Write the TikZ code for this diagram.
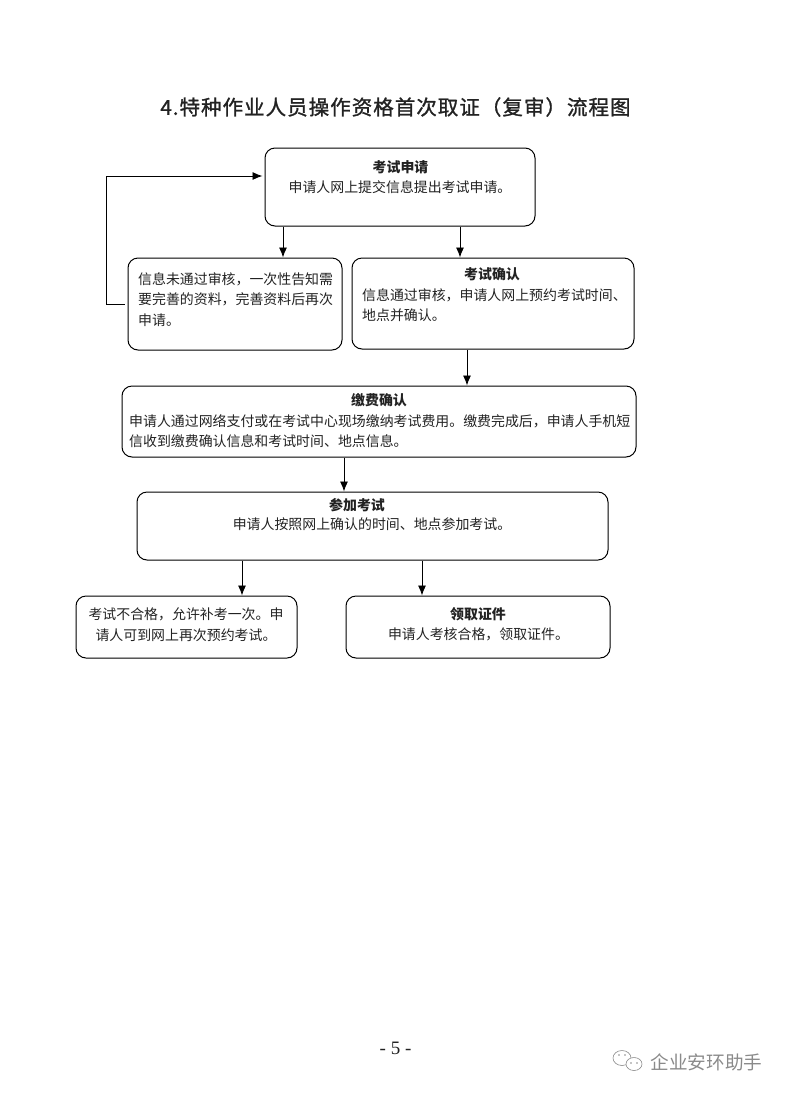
\documentclass[tikz,border=0pt]{standalone}
\usepackage{fontspec}
\setmainfont{Noto Sans CJK SC}
\newfontfamily\titlefont[LetterSpace=5,FakeBold=1.2]{Noto Sans CJK SC}
\newfontfamily\pagefont{Liberation Serif}
\usetikzlibrary{arrows.meta}
\pgfdeclarelayer{edgelayer}
\pgfdeclarelayer{nodelayer}
\pgfsetlayers{edgelayer,nodelayer,main}
\definecolor{ink}{HTML}{222222}
\definecolor{mark}{HTML}{8A8A8A}
\tikzstyle{box}=[rectangle,rounded corners=10pt,fill=white,draw=black,line width=1pt,inner sep=0pt]
\tikzstyle{transition}=[-{Latex[length=10pt,width=8pt]},draw=black,line width=0.9pt]
\tikzstyle{words}=[inner sep=0pt,text=ink,font=\fontsize{13.92}{20.5}\selectfont]
\tikzstyle{leftwords}=[style=words,anchor=west,align=left]
\tikzstyle{midwords}=[style=words,align=center]
\tikzstyle{bubble}=[draw=mark,line width=0.6pt,fill=white]
\tikzstyle{eye}=[fill=mark]

\begin{document}
\begin{tikzpicture}[x=1pt,y=-1pt]
	\useasboundingbox (0, 0) rectangle (789, 1096);
	\begin{pgfonlayer}{nodelayer}
		\node [style=box, minimum width=270pt, minimum height=78pt] (0) at (400, 187) {};
		\node [style=box, minimum width=214pt, minimum height=92pt] (1) at (235, 304) {};
		\node [style=box, minimum width=282pt, minimum height=91pt] (2) at (493, 303.5) {};
		\node [style=box, minimum width=514pt, minimum height=71pt] (3) at (379, 421.5) {};
		\node [style=box, minimum width=471pt, minimum height=68pt] (4) at (372.5, 526) {};
		\node [style=box, minimum width=221pt, minimum height=62pt] (5) at (186.5, 627) {};
		\node [style=box, minimum width=264pt, minimum height=62pt] (6) at (478, 627) {};
		\coordinate (7) at (106, 304);
	\end{pgfonlayer}
	\begin{pgfonlayer}{edgelayer}
		\draw [style=transition] ([xshift=-117pt]0.south) to ([xshift=48pt]1.north);
		\draw [style=transition] ([xshift=60pt]0.south) to ([xshift=-33pt]2.north);
		\draw [style=transition] ([xshift=-26pt]2.south) to ([xshift=88pt]3.north);
		\draw [style=transition] ([xshift=-35pt]3.south) to ([xshift=-28.5pt]4.north);
		\draw [style=transition] ([xshift=-130.5pt]4.south) to ([xshift=55.5pt]5.north);
		\draw [style=transition] ([xshift=49.5pt]4.south) to ([xshift=-56pt]6.north);
		\draw [style=transition] ([xshift=-3pt]1.west) -- (7) |- ([xshift=-2pt,yshift=11pt]0.west);
	\end{pgfonlayer}
	\node [inner sep=0pt, text=ink, font=\titlefont\fontsize{20.5}{24}\selectfont] (8) at (395.5, 107) {4.特种作业人员操作资格首次取证（复审）流程图};
	\node [style=midwords] (9) at (400.5, 167) {\textbf{考试申请}};
	\node [style=midwords] (21) at (400, 187) {申请人网上提交信息提出考试申请。};
	\node [style=leftwords] (10) at (138, 299.5) {信息未通过审核，一次性告知需\\要完善的资料，完善资料后再次\\申请。};
	\node [style=midwords] (11) at (492, 274) {\textbf{考试确认}};
	\node [style=leftwords] (12) at (362, 305) {信息通过审核，申请人网上预约考试时间、\\地点并确认。};
	\node [style=midwords] (13) at (379, 400) {\textbf{缴费确认}};
	\node [style=leftwords] (14) at (129, 431) {申请人通过网络支付或在考试中心现场缴纳考试费用。缴费完成后，申请人手机短\\信收到缴费确认信息和考试时间、地点信息。};
	\node [style=midwords] (15) at (357, 505) {\textbf{参加考试}};
	\node [style=midwords] (16) at (372, 524) {申请人按照网上确认的时间、地点参加考试。};
	\node [style=midwords] (17) at (186, 624.5) {考试不合格，允许补考一次。申\\请人可到网上再次预约考试。};
	\node [style=midwords] (18) at (478, 614) {\textbf{领取证件}};
	\node [style=midwords] (22) at (478.5, 634) {申请人考核合格，领取证件。};
	\node [inner sep=0pt, text=ink, font=\pagefont\fontsize{19}{23}\selectfont] (19) at (395.5, 1048) {- 5 -};
	\node [inner sep=0pt, text=mark, font=\fontsize{18.6}{22}\selectfont] (20) at (706.5, 1062) {企业安环助手};
	\draw [style=bubble] (622, 1058) ellipse (9 and 7.5);
	\draw [style=bubble] (634, 1064) ellipse (8 and 6.5);
	\fill [style=eye] (619, 1055) circle (0.9);
	\fill [style=eye] (625, 1055) circle (0.9);
	\fill [style=eye] (631, 1063) circle (0.8);
	\fill [style=eye] (637, 1063) circle (0.8);
\end{tikzpicture}
\end{document}
